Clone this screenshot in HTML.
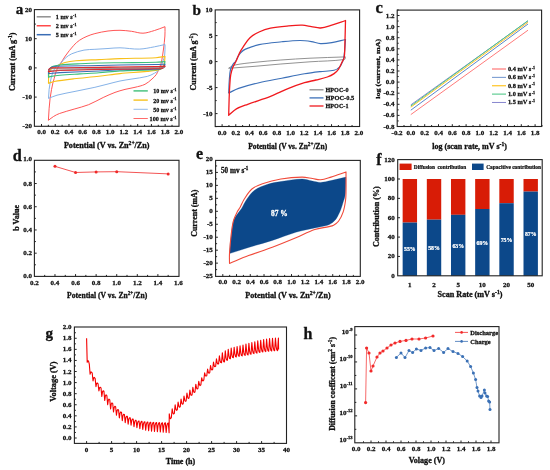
<!DOCTYPE html><html><head><meta charset="utf-8"><style>html,body{margin:0;padding:0;background:#fff;}svg{display:block;font-family:"Liberation Serif",serif;filter:blur(0.3px);}</style></head><body><svg width="550" height="470" viewBox="0 0 550 470" font-family="Liberation Serif, serif" font-weight="bold" stroke-linecap="butt"><path d="M48.4 120.3C48.63 116.47 48.81 112.63 49.1 108.8C49.37 105.26 49.66 101.72 50.1 98.2C50.46 95.32 50.98 92.46 51.5 89.6C51.91 87.36 52.36 85.12 52.9 82.9C53.26 81.41 53.8 79.98 54.2 78.5C54.74 76.51 55.04 74.45 55.7 72.5C56.25 70.87 56.99 69.31 57.8 67.8C58.43 66.64 59.29 65.62 60 64.5C61.79 61.68 63.35 58.71 65.3 56C67.96 52.3 70.74 48.68 73.8 45.3C75.53 43.39 77.47 41.65 79.6 40.2C81.9 38.63 84.44 37.4 87 36.3C89.56 35.2 92.2 34.28 94.9 33.6C99.22 32.51 103.59 31.58 108 31C111.97 30.48 115.99 30.25 120 30.3C123.85 30.35 127.68 30.82 131.5 31.3C135.35 31.79 139.12 33.34 143 33.2C146.94 33.06 150.72 31.62 154.5 30.5C158.07 29.45 161.5 27.97 165 26.7C164.97 29.8 165.11 32.91 164.9 36C164.61 40.35 164.02 44.67 163.5 49C163.22 51.34 162.9 53.68 162.5 56C162.06 58.55 161.71 61.12 161 63.6C160.37 65.8 159.41 67.9 158.5 70C157.84 71.53 157.28 73.15 156.3 74.5C155.09 76.18 153.57 77.64 152 79C149.79 80.92 147.63 83.02 145 84.3C141.87 85.83 138.37 86.44 135 87.3C131.7 88.14 128.3 88.56 125 89.4C121.63 90.26 118.26 91.19 115 92.4C110.98 93.89 107.08 95.69 103.2 97.5C98.28 99.79 93.64 102.69 88.6 104.7C83.91 106.57 78.93 107.64 74.1 109.1C69.23 110.57 64.29 111.79 59.5 113.5C57.46 114.23 55.54 115.27 53.7 116.4C51.83 117.55 50.17 119 48.4 120.3Z" fill="none" stroke="#ff4d4d" stroke-width="0.95" stroke-linejoin="round"/>
<path d="M48.5 98.4C48.7 95.47 48.8 92.52 49.1 89.6C49.33 87.35 49.7 85.12 50.1 82.9C50.4 81.25 50.77 79.62 51.2 78C51.74 75.98 52.16 73.91 53 72C53.78 70.22 54.73 68.47 56 67C57.1 65.72 58.78 65.07 60 63.9C61.89 62.09 63.32 59.81 65.3 58.1C67.25 56.42 69.34 54.81 71.7 53.8C75.64 52.12 79.8 50.92 84 50.1C87.58 49.41 91.26 49.54 94.9 49.3C99.27 49.01 103.63 48.76 108 48.5C112 48.26 115.99 47.72 120 47.8C126.41 47.92 132.79 49.29 139.2 49.1C144.36 48.95 149.42 47.71 154.5 46.8C158.03 46.17 161.5 45.27 165 44.5C164.9 48 165.16 51.53 164.7 55C164.39 57.34 163.45 59.56 162.7 61.8C161.88 64.26 161.51 66.99 160 69.1C158.66 70.96 156.48 72.06 154.5 73.2C152.22 74.51 149.84 75.74 147.3 76.4C142.29 77.69 137.1 78.14 132 79C128 79.67 123.97 80.17 120 81C115.96 81.84 112 83 108 84C103.63 85.1 99.29 86.31 94.9 87.3C88.29 88.78 81.63 90.02 75 91.4C69 92.65 62.93 93.63 57 95.2C54.07 95.97 51.33 97.33 48.5 98.4Z" fill="none" stroke="#7eaee6" stroke-width="0.95" stroke-linejoin="round"/>
<path d="M48.5 83.3C48.57 80.87 48.47 78.42 48.7 76C48.84 74.48 49 72.91 49.6 71.5C50.13 70.27 50.97 69.14 52 68.3C53.16 67.36 54.64 66.91 56 66.3C58.97 64.97 61.86 63.38 65 62.5C68.58 61.5 72.3 61.02 76 60.7C83.65 60.05 91.33 59.97 99 59.6C106 59.27 113 58.83 120 58.6C132 58.2 144.01 58.29 156 57.7C159.03 57.55 162 56.83 165 56.4C164.83 58.27 164.86 60.16 164.5 62C164.19 63.55 163.81 65.14 163 66.5C162.27 67.71 161.35 69.09 160 69.5C155.81 70.78 151.36 70.95 147 71.4C138.02 72.32 128.98 72.68 120 73.6C112.98 74.32 106.01 75.51 99 76.3C90.68 77.24 82.32 77.84 74 78.8C67.32 79.57 60.62 80.33 54 81.5C52.1 81.84 50.33 82.7 48.5 83.3Z" fill="none" stroke="#f8c01a" stroke-width="1.15" stroke-linejoin="round"/>
<path d="M48.5 77.3C48.57 75.2 48.27 73.06 48.7 71C48.95 69.8 49.61 68.64 50.5 67.8C51.45 66.9 52.74 66.37 54 66C55.94 65.43 57.98 65.17 60 65C66.65 64.44 73.33 64.14 80 63.8C86.33 63.48 92.66 63.17 99 63C106 62.81 113 62.79 120 62.7C132 62.55 144 62.62 156 62.3C159.01 62.22 162 61.77 165 61.5C164.67 63 164.83 64.71 164 66C163.07 67.46 161.66 68.83 160 69.3C156.79 70.22 153.34 69.87 150 70C140 70.4 129.99 70.35 120 70.9C112.98 71.29 106.01 72.27 99 72.8C92.67 73.27 86.33 73.51 80 73.9C73.33 74.31 66.65 74.6 60 75.2C56.65 75.5 53.31 76 50 76.6C49.46 76.7 49 77.07 48.5 77.3Z" fill="none" stroke="#3cc07a" stroke-width="1.15" stroke-linejoin="round"/>
<path d="M48.5 73.5C48.6 72.33 48.35 71.08 48.8 70C49.23 68.98 50.02 68.02 51 67.5C52.52 66.7 54.28 66.27 56 66.2C70.32 65.6 84.67 65.77 99 65.5C106 65.37 113 65.12 120 65C132 64.79 144 64.71 156 64.5C159 64.45 162 64.3 165 64.2C164.33 65.47 164.25 67.3 163 68C160.93 69.15 158.37 69.1 156 69.2C144.01 69.7 132 69.42 120 69.8C112.99 70.02 106 70.67 99 71C86 71.61 73 71.96 60 72.6C56.16 72.79 52.33 73.2 48.5 73.5Z" fill="none" stroke="#3a6db5" stroke-width="1.1" stroke-linejoin="round"/>
<path d="M48.5 71.5C48.77 70.67 48.61 69.54 49.3 69C50.31 68.22 51.72 68.04 53 68C68.33 67.54 83.67 67.71 99 67.5C106 67.41 113 67.19 120 67.1C132 66.95 144 67.01 156 66.8C159 66.75 162 66.47 165 66.3C164 66.97 163.16 68 162 68.3C160.06 68.8 158 68.57 156 68.6C144 68.8 132 68.83 120 69C113 69.1 106 69.24 99 69.4C86 69.7 72.99 69.86 60 70.4C56.15 70.56 52.33 71.13 48.5 71.5Z" fill="none" stroke="#e3232a" stroke-width="1.4" stroke-linejoin="round"/>
<path d="M48.5 70.5C49.17 69.87 49.58 68.64 50.5 68.6C66.65 67.9 82.83 68.48 99 68.3C121 68.05 143 67.63 165 67.3C163.33 67.57 161.69 68.07 160 68.1C139.67 68.5 119.33 68.16 99 68.6C82.16 68.96 65.33 69.87 48.5 70.5Z" fill="none" stroke="#8a8a8a" stroke-width="0.6" stroke-linejoin="round"/>
<rect x="34.4" y="9.6" width="144.6" height="116.7" fill="none" stroke="#222" stroke-width="1.1"/>
<line x1="41.5" y1="126.3" x2="41.5" y2="124" stroke="#222" stroke-width="1.0"/>
<line x1="55.24" y1="126.3" x2="55.24" y2="124" stroke="#222" stroke-width="1.0"/>
<line x1="68.98" y1="126.3" x2="68.98" y2="124" stroke="#222" stroke-width="1.0"/>
<line x1="82.72" y1="126.3" x2="82.72" y2="124" stroke="#222" stroke-width="1.0"/>
<line x1="96.46" y1="126.3" x2="96.46" y2="124" stroke="#222" stroke-width="1.0"/>
<line x1="110.2" y1="126.3" x2="110.2" y2="124" stroke="#222" stroke-width="1.0"/>
<line x1="123.94" y1="126.3" x2="123.94" y2="124" stroke="#222" stroke-width="1.0"/>
<line x1="137.68" y1="126.3" x2="137.68" y2="124" stroke="#222" stroke-width="1.0"/>
<line x1="151.42" y1="126.3" x2="151.42" y2="124" stroke="#222" stroke-width="1.0"/>
<line x1="165.16" y1="126.3" x2="165.16" y2="124" stroke="#222" stroke-width="1.0"/>
<line x1="48.37" y1="126.3" x2="48.37" y2="124.8" stroke="#222" stroke-width="1.0"/>
<line x1="62.11" y1="126.3" x2="62.11" y2="124.8" stroke="#222" stroke-width="1.0"/>
<line x1="75.85" y1="126.3" x2="75.85" y2="124.8" stroke="#222" stroke-width="1.0"/>
<line x1="89.59" y1="126.3" x2="89.59" y2="124.8" stroke="#222" stroke-width="1.0"/>
<line x1="103.33" y1="126.3" x2="103.33" y2="124.8" stroke="#222" stroke-width="1.0"/>
<line x1="117.07" y1="126.3" x2="117.07" y2="124.8" stroke="#222" stroke-width="1.0"/>
<line x1="130.81" y1="126.3" x2="130.81" y2="124.8" stroke="#222" stroke-width="1.0"/>
<line x1="144.55" y1="126.3" x2="144.55" y2="124.8" stroke="#222" stroke-width="1.0"/>
<line x1="158.29" y1="126.3" x2="158.29" y2="124.8" stroke="#222" stroke-width="1.0"/>
<line x1="172.03" y1="126.3" x2="172.03" y2="124.8" stroke="#222" stroke-width="1.0"/>
<text x="41.5" y="134.4" font-size="6.5" text-anchor="middle" fill="#111" textLength="8.75" lengthAdjust="spacingAndGlyphs" stroke="#111" stroke-width="0.26">0.0</text>
<text x="55.24" y="134.4" font-size="6.5" text-anchor="middle" fill="#111" textLength="8.75" lengthAdjust="spacingAndGlyphs" stroke="#111" stroke-width="0.26">0.2</text>
<text x="68.98" y="134.4" font-size="6.5" text-anchor="middle" fill="#111" textLength="8.75" lengthAdjust="spacingAndGlyphs" stroke="#111" stroke-width="0.26">0.4</text>
<text x="82.72" y="134.4" font-size="6.5" text-anchor="middle" fill="#111" textLength="8.75" lengthAdjust="spacingAndGlyphs" stroke="#111" stroke-width="0.26">0.6</text>
<text x="96.46" y="134.4" font-size="6.5" text-anchor="middle" fill="#111" textLength="8.75" lengthAdjust="spacingAndGlyphs" stroke="#111" stroke-width="0.26">0.8</text>
<text x="110.2" y="134.4" font-size="6.5" text-anchor="middle" fill="#111" textLength="8.75" lengthAdjust="spacingAndGlyphs" stroke="#111" stroke-width="0.26">1.0</text>
<text x="123.94" y="134.4" font-size="6.5" text-anchor="middle" fill="#111" textLength="8.75" lengthAdjust="spacingAndGlyphs" stroke="#111" stroke-width="0.26">1.2</text>
<text x="137.68" y="134.4" font-size="6.5" text-anchor="middle" fill="#111" textLength="8.75" lengthAdjust="spacingAndGlyphs" stroke="#111" stroke-width="0.26">1.4</text>
<text x="151.42" y="134.4" font-size="6.5" text-anchor="middle" fill="#111" textLength="8.75" lengthAdjust="spacingAndGlyphs" stroke="#111" stroke-width="0.26">1.6</text>
<text x="165.16" y="134.4" font-size="6.5" text-anchor="middle" fill="#111" textLength="8.75" lengthAdjust="spacingAndGlyphs" stroke="#111" stroke-width="0.26">1.8</text>
<text x="178.9" y="134.4" font-size="6.5" text-anchor="middle" fill="#111" textLength="8.75" lengthAdjust="spacingAndGlyphs" stroke="#111" stroke-width="0.26">2.0</text>
<text x="31.9" y="128.3" font-size="6.5" text-anchor="end" fill="#111" textLength="9.33" lengthAdjust="spacingAndGlyphs" stroke="#111" stroke-width="0.26">-20</text>
<text x="31.9" y="99.1" font-size="6.5" text-anchor="end" fill="#111" textLength="9.33" lengthAdjust="spacingAndGlyphs" stroke="#111" stroke-width="0.26">-10</text>
<text x="31.9" y="69.9" font-size="6.5" text-anchor="end" fill="#111" textLength="3.5" lengthAdjust="spacingAndGlyphs" stroke="#111" stroke-width="0.26">0</text>
<text x="31.9" y="40.7" font-size="6.5" text-anchor="end" fill="#111" textLength="7" lengthAdjust="spacingAndGlyphs" stroke="#111" stroke-width="0.26">10</text>
<text x="31.9" y="11.5" font-size="6.5" text-anchor="end" fill="#111" textLength="7" lengthAdjust="spacingAndGlyphs" stroke="#111" stroke-width="0.26">20</text>
<line x1="34.4" y1="97.1" x2="36.7" y2="97.1" stroke="#222" stroke-width="1.0"/>
<line x1="34.4" y1="67.9" x2="36.7" y2="67.9" stroke="#222" stroke-width="1.0"/>
<line x1="34.4" y1="38.7" x2="36.7" y2="38.7" stroke="#222" stroke-width="1.0"/>
<line x1="34.4" y1="111.7" x2="35.9" y2="111.7" stroke="#222" stroke-width="1.0"/>
<line x1="34.4" y1="82.5" x2="35.9" y2="82.5" stroke="#222" stroke-width="1.0"/>
<line x1="34.4" y1="53.3" x2="35.9" y2="53.3" stroke="#222" stroke-width="1.0"/>
<line x1="34.4" y1="24.1" x2="35.9" y2="24.1" stroke="#222" stroke-width="1.0"/>
<text x="63.9" y="148.4" font-size="7.5" text-anchor="start" fill="#111" textLength="85.6" lengthAdjust="spacingAndGlyphs" stroke="#111" stroke-width="0.3">Potential (V vs. Zn<tspan font-size="70%" dy="-3">2+</tspan><tspan dy="3">/Zn)</tspan></text>
<text x="15" y="91" font-size="7.9" text-anchor="start" fill="#111" transform="rotate(-90 15 91)" textLength="58.6" lengthAdjust="spacingAndGlyphs" stroke="#111" stroke-width="0.32">Current (mA g<tspan font-size="70%" dy="-3">-1</tspan><tspan dy="3">)</tspan></text>
<text x="15.85" y="13.6" font-size="15" text-anchor="start" fill="#111" stroke="#111" stroke-width="0.32">a</text>
<line x1="36.7" y1="16.8" x2="50.8" y2="16.8" stroke="#8f8f8f" stroke-width="1.5"/>
<text x="55.8" y="19" font-size="6.4" text-anchor="start" fill="#111" textLength="20.6" lengthAdjust="spacingAndGlyphs" stroke="#111" stroke-width="0.26">1 mv s<tspan font-size="65%" dx="0.5" dy="-2.2">-1</tspan></text>
<line x1="36.7" y1="25.75" x2="50.8" y2="25.75" stroke="#ff4a4a" stroke-width="1.5"/>
<text x="55.8" y="27.95" font-size="6.4" text-anchor="start" fill="#111" textLength="20.6" lengthAdjust="spacingAndGlyphs" stroke="#111" stroke-width="0.26">2 mv s<tspan font-size="65%" dx="0.5" dy="-2.2">-1</tspan></text>
<line x1="36.7" y1="34.7" x2="50.8" y2="34.7" stroke="#3a6db5" stroke-width="1.5"/>
<text x="55.8" y="36.9" font-size="6.4" text-anchor="start" fill="#111" textLength="20.6" lengthAdjust="spacingAndGlyphs" stroke="#111" stroke-width="0.26">5 mv s<tspan font-size="65%" dx="0.5" dy="-2.2">-1</tspan></text>
<line x1="133.5" y1="90.9" x2="147.8" y2="90.9" stroke="#3fbf78" stroke-width="1.4"/>
<text x="153.2" y="93.3" font-size="6.4" text-anchor="start" fill="#111" textLength="23.4" lengthAdjust="spacingAndGlyphs" stroke="#111" stroke-width="0.26">10 mv s<tspan font-size="65%" dx="0.5" dy="-2.2">-1</tspan></text>
<line x1="133.5" y1="100.1" x2="147.8" y2="100.1" stroke="#f7c21e" stroke-width="1.4"/>
<text x="153.2" y="102.5" font-size="6.4" text-anchor="start" fill="#111" textLength="23.4" lengthAdjust="spacingAndGlyphs" stroke="#111" stroke-width="0.26">20 mv s<tspan font-size="65%" dx="0.5" dy="-2.2">-1</tspan></text>
<line x1="133.5" y1="109.3" x2="147.8" y2="109.3" stroke="#86b2e6" stroke-width="0.9"/>
<text x="153.2" y="111.7" font-size="6.4" text-anchor="start" fill="#111" textLength="23.4" lengthAdjust="spacingAndGlyphs" stroke="#111" stroke-width="0.26">50 mv s<tspan font-size="65%" dx="0.5" dy="-2.2">-1</tspan></text>
<line x1="133.5" y1="118.5" x2="147.8" y2="118.5" stroke="#ff5b5b" stroke-width="0.9"/>
<text x="149.6" y="120.9" font-size="6.4" text-anchor="start" fill="#111" textLength="27" lengthAdjust="spacingAndGlyphs" stroke="#111" stroke-width="0.26">100 mv s<tspan font-size="65%" dx="0.5" dy="-2.2">-1</tspan></text>
<path d="M228.7 68C230.8 67 232.73 65.49 235 65C241.57 63.58 248.31 63.03 255 62.3C263.62 61.36 272.26 60.64 280.9 60C290.59 59.28 300.29 58.67 310 58.2C321.83 57.63 333.67 57.33 345.5 56.9C345.17 57.77 345.42 59.37 344.5 59.5C333.08 61.08 321.5 60.99 310 61.8C300.3 62.49 290.6 63.21 280.9 64C272.26 64.71 263.64 65.59 255 66.3C246.24 67.02 237.47 67.63 228.7 68.3Z" fill="none" stroke="#8c8c8c" stroke-width="0.95" stroke-linejoin="round"/>
<path d="M228.7 93C228.9 88.67 228.97 84.33 229.3 80C229.57 76.49 229.67 72.92 230.5 69.5C230.98 67.52 232.12 65.73 233.2 64C233.8 63.04 234.89 62.45 235.5 61.5C236.5 59.93 237.04 58.1 238 56.5C238.85 55.09 239.73 53.66 240.9 52.5C242.26 51.16 243.75 49.86 245.5 49.1C249.88 47.2 254.42 45.54 259.1 44.6C266.57 43.1 274.21 42.56 281.8 41.8C287.85 41.19 293.92 40.54 300 40.5C303.82 40.47 307.63 41.03 311.4 41.6C314.47 42.06 317.4 43.45 320.5 43.6C324.28 43.79 328.07 43.21 331.8 42.6C336.42 41.84 340.93 40.53 345.5 39.5C345.33 41.67 345.18 43.83 345 46C344.75 48.93 344.58 51.88 344.2 54.8C343.97 56.55 343.81 58.34 343.2 60C342.33 62.38 341.49 64.91 339.8 66.8C338.33 68.45 336.25 69.67 334.1 70.2C329.68 71.3 325.02 71.05 320.5 71.6C315.16 72.25 309.81 72.89 304.5 73.8C296.9 75.1 289.36 76.72 281.8 78.2C274.23 79.68 266.61 80.93 259.1 82.7C252.2 84.33 245.32 86.12 238.6 88.4C235.15 89.57 232 91.47 228.7 93Z" fill="none" stroke="#3c70b8" stroke-width="1.15" stroke-linejoin="round"/>
<path d="M228.7 115.3C228.83 110.2 228.93 105.1 229.1 100C229.23 96 229.34 92 229.6 88C229.88 83.66 230 79.29 230.7 75C231.14 72.26 231.98 69.58 233 67C233.89 64.72 235.37 62.72 236.4 60.5C237.54 58.05 238.3 55.42 239.5 53C240.57 50.84 241.84 48.78 243.2 46.8C245.34 43.68 247.23 40.28 250 37.7C252.62 35.26 255.85 33.5 259.1 32C262.73 30.32 266.58 29.01 270.5 28.2C276.46 26.97 282.55 26.47 288.6 25.9C293.15 25.47 297.73 25.06 302.3 25.2C305.37 25.29 308.37 26.13 311.4 26.6C314.43 27.07 317.44 28.21 320.5 28C324.37 27.73 328.08 26.32 331.8 25.2C336.42 23.81 340.93 22.07 345.5 20.5C345.33 27 345.23 33.5 345 40C344.79 45.84 344.98 51.71 344.2 57.5C343.97 59.24 342.77 60.71 342 62.3C340.9 64.58 340.05 67.02 338.6 69.1C337.38 70.84 335.84 72.38 334.1 73.6C332.02 75.05 329.69 76.16 327.3 77C323.59 78.3 319.71 79.05 315.9 80C312.11 80.95 308.23 81.55 304.5 82.7C299.12 84.36 293.82 86.3 288.6 88.4C282.48 90.87 276.65 94.01 270.5 96.4C263 99.31 255.25 101.53 247.7 104.3C243.88 105.7 239.92 106.86 236.4 108.9C233.51 110.57 231.27 113.17 228.7 115.3Z" fill="none" stroke="#f0191e" stroke-width="1.3" stroke-linejoin="round"/>
<rect x="215.2" y="9.9" width="144.4" height="116.6" fill="none" stroke="#222" stroke-width="1.1"/>
<line x1="222.1" y1="126.5" x2="222.1" y2="124.2" stroke="#222" stroke-width="1.0"/>
<line x1="235.78" y1="126.5" x2="235.78" y2="124.2" stroke="#222" stroke-width="1.0"/>
<line x1="249.46" y1="126.5" x2="249.46" y2="124.2" stroke="#222" stroke-width="1.0"/>
<line x1="263.14" y1="126.5" x2="263.14" y2="124.2" stroke="#222" stroke-width="1.0"/>
<line x1="276.82" y1="126.5" x2="276.82" y2="124.2" stroke="#222" stroke-width="1.0"/>
<line x1="290.5" y1="126.5" x2="290.5" y2="124.2" stroke="#222" stroke-width="1.0"/>
<line x1="304.18" y1="126.5" x2="304.18" y2="124.2" stroke="#222" stroke-width="1.0"/>
<line x1="317.86" y1="126.5" x2="317.86" y2="124.2" stroke="#222" stroke-width="1.0"/>
<line x1="331.54" y1="126.5" x2="331.54" y2="124.2" stroke="#222" stroke-width="1.0"/>
<line x1="345.22" y1="126.5" x2="345.22" y2="124.2" stroke="#222" stroke-width="1.0"/>
<line x1="228.94" y1="126.5" x2="228.94" y2="125" stroke="#222" stroke-width="1.0"/>
<line x1="242.62" y1="126.5" x2="242.62" y2="125" stroke="#222" stroke-width="1.0"/>
<line x1="256.3" y1="126.5" x2="256.3" y2="125" stroke="#222" stroke-width="1.0"/>
<line x1="269.98" y1="126.5" x2="269.98" y2="125" stroke="#222" stroke-width="1.0"/>
<line x1="283.66" y1="126.5" x2="283.66" y2="125" stroke="#222" stroke-width="1.0"/>
<line x1="297.34" y1="126.5" x2="297.34" y2="125" stroke="#222" stroke-width="1.0"/>
<line x1="311.02" y1="126.5" x2="311.02" y2="125" stroke="#222" stroke-width="1.0"/>
<line x1="324.7" y1="126.5" x2="324.7" y2="125" stroke="#222" stroke-width="1.0"/>
<line x1="338.38" y1="126.5" x2="338.38" y2="125" stroke="#222" stroke-width="1.0"/>
<line x1="352.06" y1="126.5" x2="352.06" y2="125" stroke="#222" stroke-width="1.0"/>
<text x="222.1" y="134.5" font-size="6.5" text-anchor="middle" fill="#111" textLength="8.75" lengthAdjust="spacingAndGlyphs" stroke="#111" stroke-width="0.26">0.0</text>
<text x="235.78" y="134.5" font-size="6.5" text-anchor="middle" fill="#111" textLength="8.75" lengthAdjust="spacingAndGlyphs" stroke="#111" stroke-width="0.26">0.2</text>
<text x="249.46" y="134.5" font-size="6.5" text-anchor="middle" fill="#111" textLength="8.75" lengthAdjust="spacingAndGlyphs" stroke="#111" stroke-width="0.26">0.4</text>
<text x="263.14" y="134.5" font-size="6.5" text-anchor="middle" fill="#111" textLength="8.75" lengthAdjust="spacingAndGlyphs" stroke="#111" stroke-width="0.26">0.6</text>
<text x="276.82" y="134.5" font-size="6.5" text-anchor="middle" fill="#111" textLength="8.75" lengthAdjust="spacingAndGlyphs" stroke="#111" stroke-width="0.26">0.8</text>
<text x="290.5" y="134.5" font-size="6.5" text-anchor="middle" fill="#111" textLength="8.75" lengthAdjust="spacingAndGlyphs" stroke="#111" stroke-width="0.26">1.0</text>
<text x="304.18" y="134.5" font-size="6.5" text-anchor="middle" fill="#111" textLength="8.75" lengthAdjust="spacingAndGlyphs" stroke="#111" stroke-width="0.26">1.2</text>
<text x="317.86" y="134.5" font-size="6.5" text-anchor="middle" fill="#111" textLength="8.75" lengthAdjust="spacingAndGlyphs" stroke="#111" stroke-width="0.26">1.4</text>
<text x="331.54" y="134.5" font-size="6.5" text-anchor="middle" fill="#111" textLength="8.75" lengthAdjust="spacingAndGlyphs" stroke="#111" stroke-width="0.26">1.6</text>
<text x="345.22" y="134.5" font-size="6.5" text-anchor="middle" fill="#111" textLength="8.75" lengthAdjust="spacingAndGlyphs" stroke="#111" stroke-width="0.26">1.8</text>
<text x="358.9" y="134.5" font-size="6.5" text-anchor="middle" fill="#111" textLength="8.75" lengthAdjust="spacingAndGlyphs" stroke="#111" stroke-width="0.26">2.0</text>
<text x="212.6" y="115.6" font-size="6.5" text-anchor="end" fill="#111" textLength="9.33" lengthAdjust="spacingAndGlyphs" stroke="#111" stroke-width="0.26">-10</text>
<text x="212.6" y="89.6" font-size="6.5" text-anchor="end" fill="#111" textLength="5.83" lengthAdjust="spacingAndGlyphs" stroke="#111" stroke-width="0.26">-5</text>
<text x="212.6" y="63.6" font-size="6.5" text-anchor="end" fill="#111" textLength="3.5" lengthAdjust="spacingAndGlyphs" stroke="#111" stroke-width="0.26">0</text>
<text x="212.6" y="37.6" font-size="6.5" text-anchor="end" fill="#111" textLength="3.5" lengthAdjust="spacingAndGlyphs" stroke="#111" stroke-width="0.26">5</text>
<text x="212.6" y="11.6" font-size="6.5" text-anchor="end" fill="#111" textLength="7" lengthAdjust="spacingAndGlyphs" stroke="#111" stroke-width="0.26">10</text>
<line x1="215.2" y1="113.6" x2="217.5" y2="113.6" stroke="#222" stroke-width="1.0"/>
<line x1="215.2" y1="87.6" x2="217.5" y2="87.6" stroke="#222" stroke-width="1.0"/>
<line x1="215.2" y1="61.6" x2="217.5" y2="61.6" stroke="#222" stroke-width="1.0"/>
<line x1="215.2" y1="35.6" x2="217.5" y2="35.6" stroke="#222" stroke-width="1.0"/>
<line x1="215.2" y1="126.6" x2="216.7" y2="126.6" stroke="#222" stroke-width="1.0"/>
<line x1="215.2" y1="100.6" x2="216.7" y2="100.6" stroke="#222" stroke-width="1.0"/>
<line x1="215.2" y1="74.6" x2="216.7" y2="74.6" stroke="#222" stroke-width="1.0"/>
<line x1="215.2" y1="48.6" x2="216.7" y2="48.6" stroke="#222" stroke-width="1.0"/>
<line x1="215.2" y1="22.6" x2="216.7" y2="22.6" stroke="#222" stroke-width="1.0"/>
<text x="248.2" y="148.6" font-size="7.2" text-anchor="start" fill="#111" textLength="79" lengthAdjust="spacingAndGlyphs" stroke="#111" stroke-width="0.29">Potential (V vs. Zn<tspan font-size="70%" dy="-3">2+</tspan><tspan dy="3">/Zn)</tspan></text>
<text x="196.2" y="90.5" font-size="7.9" text-anchor="start" fill="#111" transform="rotate(-90 196.2 90.5)" textLength="57.4" lengthAdjust="spacingAndGlyphs" stroke="#111" stroke-width="0.32">Current (mA g<tspan font-size="70%" dy="-3">-1</tspan><tspan dy="3">)</tspan></text>
<text x="192.6" y="14.9" font-size="15.3" text-anchor="start" fill="#111" stroke="#111" stroke-width="0.32">b</text>
<line x1="309.5" y1="89.8" x2="323.5" y2="89.8" stroke="#8c8c8c" stroke-width="1.3"/>
<text x="325.5" y="91.8" font-size="6.4" text-anchor="start" fill="#111" textLength="23" lengthAdjust="spacingAndGlyphs" stroke="#111" stroke-width="0.26">HPOC-0</text>
<line x1="309.5" y1="97.9" x2="323.5" y2="97.9" stroke="#3c70b8" stroke-width="1.3"/>
<text x="325.5" y="99.9" font-size="6.4" text-anchor="start" fill="#111" textLength="28.8" lengthAdjust="spacingAndGlyphs" stroke="#111" stroke-width="0.26">HPOC-0.5</text>
<line x1="309.5" y1="106" x2="323.5" y2="106" stroke="#f0191e" stroke-width="1.3"/>
<text x="325.5" y="108" font-size="6.4" text-anchor="start" fill="#111" textLength="23" lengthAdjust="spacingAndGlyphs" stroke="#111" stroke-width="0.26">HPOC-1</text>
<line x1="410.8" y1="104.9" x2="528" y2="21" stroke="#7b78c8" stroke-width="0.9"/>
<line x1="410.8" y1="114.6" x2="528" y2="30.2" stroke="#ff7a7a" stroke-width="1.0"/>
<line x1="410.8" y1="110.2" x2="528" y2="24" stroke="#4a78c2" stroke-width="0.9"/>
<line x1="410.8" y1="107.2" x2="528" y2="22.3" stroke="#ffc423" stroke-width="1.0"/>
<line x1="410.8" y1="106" x2="528" y2="20.6" stroke="#52c98a" stroke-width="1.0"/>
<rect x="397.2" y="10.1" width="144.4" height="116.4" fill="none" stroke="#222" stroke-width="1.1"/>
<line x1="410.9" y1="126.5" x2="410.9" y2="124.2" stroke="#222" stroke-width="1.0"/>
<line x1="424.7" y1="126.5" x2="424.7" y2="124.2" stroke="#222" stroke-width="1.0"/>
<line x1="438.5" y1="126.5" x2="438.5" y2="124.2" stroke="#222" stroke-width="1.0"/>
<line x1="452.3" y1="126.5" x2="452.3" y2="124.2" stroke="#222" stroke-width="1.0"/>
<line x1="466.1" y1="126.5" x2="466.1" y2="124.2" stroke="#222" stroke-width="1.0"/>
<line x1="479.9" y1="126.5" x2="479.9" y2="124.2" stroke="#222" stroke-width="1.0"/>
<line x1="493.7" y1="126.5" x2="493.7" y2="124.2" stroke="#222" stroke-width="1.0"/>
<line x1="507.5" y1="126.5" x2="507.5" y2="124.2" stroke="#222" stroke-width="1.0"/>
<line x1="521.3" y1="126.5" x2="521.3" y2="124.2" stroke="#222" stroke-width="1.0"/>
<line x1="535.1" y1="126.5" x2="535.1" y2="124.2" stroke="#222" stroke-width="1.0"/>
<line x1="404" y1="126.5" x2="404" y2="125" stroke="#222" stroke-width="1.0"/>
<line x1="417.8" y1="126.5" x2="417.8" y2="125" stroke="#222" stroke-width="1.0"/>
<line x1="431.6" y1="126.5" x2="431.6" y2="125" stroke="#222" stroke-width="1.0"/>
<line x1="445.4" y1="126.5" x2="445.4" y2="125" stroke="#222" stroke-width="1.0"/>
<line x1="459.2" y1="126.5" x2="459.2" y2="125" stroke="#222" stroke-width="1.0"/>
<line x1="473" y1="126.5" x2="473" y2="125" stroke="#222" stroke-width="1.0"/>
<line x1="486.8" y1="126.5" x2="486.8" y2="125" stroke="#222" stroke-width="1.0"/>
<line x1="500.6" y1="126.5" x2="500.6" y2="125" stroke="#222" stroke-width="1.0"/>
<line x1="514.4" y1="126.5" x2="514.4" y2="125" stroke="#222" stroke-width="1.0"/>
<line x1="528.2" y1="126.5" x2="528.2" y2="125" stroke="#222" stroke-width="1.0"/>
<line x1="542" y1="126.5" x2="542" y2="125" stroke="#222" stroke-width="1.0"/>
<text x="397.1" y="134.5" font-size="6.5" text-anchor="middle" fill="#111" textLength="11.08" lengthAdjust="spacingAndGlyphs" stroke="#111" stroke-width="0.26">-0.2</text>
<text x="410.9" y="134.5" font-size="6.5" text-anchor="middle" fill="#111" textLength="8.75" lengthAdjust="spacingAndGlyphs" stroke="#111" stroke-width="0.26">0.0</text>
<text x="424.7" y="134.5" font-size="6.5" text-anchor="middle" fill="#111" textLength="8.75" lengthAdjust="spacingAndGlyphs" stroke="#111" stroke-width="0.26">0.2</text>
<text x="438.5" y="134.5" font-size="6.5" text-anchor="middle" fill="#111" textLength="8.75" lengthAdjust="spacingAndGlyphs" stroke="#111" stroke-width="0.26">0.4</text>
<text x="452.3" y="134.5" font-size="6.5" text-anchor="middle" fill="#111" textLength="8.75" lengthAdjust="spacingAndGlyphs" stroke="#111" stroke-width="0.26">0.6</text>
<text x="466.1" y="134.5" font-size="6.5" text-anchor="middle" fill="#111" textLength="8.75" lengthAdjust="spacingAndGlyphs" stroke="#111" stroke-width="0.26">0.8</text>
<text x="479.9" y="134.5" font-size="6.5" text-anchor="middle" fill="#111" textLength="8.75" lengthAdjust="spacingAndGlyphs" stroke="#111" stroke-width="0.26">1.0</text>
<text x="493.7" y="134.5" font-size="6.5" text-anchor="middle" fill="#111" textLength="8.75" lengthAdjust="spacingAndGlyphs" stroke="#111" stroke-width="0.26">1.2</text>
<text x="507.5" y="134.5" font-size="6.5" text-anchor="middle" fill="#111" textLength="8.75" lengthAdjust="spacingAndGlyphs" stroke="#111" stroke-width="0.26">1.4</text>
<text x="521.3" y="134.5" font-size="6.5" text-anchor="middle" fill="#111" textLength="8.75" lengthAdjust="spacingAndGlyphs" stroke="#111" stroke-width="0.26">1.6</text>
<text x="535.1" y="134.5" font-size="6.5" text-anchor="middle" fill="#111" textLength="8.75" lengthAdjust="spacingAndGlyphs" stroke="#111" stroke-width="0.26">1.8</text>
<text x="394.6" y="128.5" font-size="6.5" text-anchor="end" fill="#111" textLength="11.08" lengthAdjust="spacingAndGlyphs" stroke="#111" stroke-width="0.26">-0.8</text>
<text x="394.6" y="117.4" font-size="6.5" text-anchor="end" fill="#111" textLength="11.08" lengthAdjust="spacingAndGlyphs" stroke="#111" stroke-width="0.26">-0.6</text>
<text x="394.6" y="106.3" font-size="6.5" text-anchor="end" fill="#111" textLength="11.08" lengthAdjust="spacingAndGlyphs" stroke="#111" stroke-width="0.26">-0.4</text>
<text x="394.6" y="95.2" font-size="6.5" text-anchor="end" fill="#111" textLength="11.08" lengthAdjust="spacingAndGlyphs" stroke="#111" stroke-width="0.26">-0.2</text>
<text x="394.6" y="84.1" font-size="6.5" text-anchor="end" fill="#111" textLength="8.75" lengthAdjust="spacingAndGlyphs" stroke="#111" stroke-width="0.26">0.0</text>
<text x="394.6" y="73" font-size="6.5" text-anchor="end" fill="#111" textLength="8.75" lengthAdjust="spacingAndGlyphs" stroke="#111" stroke-width="0.26">0.2</text>
<text x="394.6" y="61.9" font-size="6.5" text-anchor="end" fill="#111" textLength="8.75" lengthAdjust="spacingAndGlyphs" stroke="#111" stroke-width="0.26">0.4</text>
<text x="394.6" y="50.8" font-size="6.5" text-anchor="end" fill="#111" textLength="8.75" lengthAdjust="spacingAndGlyphs" stroke="#111" stroke-width="0.26">0.6</text>
<text x="394.6" y="39.7" font-size="6.5" text-anchor="end" fill="#111" textLength="8.75" lengthAdjust="spacingAndGlyphs" stroke="#111" stroke-width="0.26">0.8</text>
<text x="394.6" y="28.6" font-size="6.5" text-anchor="end" fill="#111" textLength="8.75" lengthAdjust="spacingAndGlyphs" stroke="#111" stroke-width="0.26">1.0</text>
<text x="394.6" y="17.5" font-size="6.5" text-anchor="end" fill="#111" textLength="8.75" lengthAdjust="spacingAndGlyphs" stroke="#111" stroke-width="0.26">1.2</text>
<line x1="397.2" y1="115.4" x2="399.5" y2="115.4" stroke="#222" stroke-width="1.0"/>
<line x1="397.2" y1="104.3" x2="399.5" y2="104.3" stroke="#222" stroke-width="1.0"/>
<line x1="397.2" y1="93.2" x2="399.5" y2="93.2" stroke="#222" stroke-width="1.0"/>
<line x1="397.2" y1="82.1" x2="399.5" y2="82.1" stroke="#222" stroke-width="1.0"/>
<line x1="397.2" y1="71" x2="399.5" y2="71" stroke="#222" stroke-width="1.0"/>
<line x1="397.2" y1="59.9" x2="399.5" y2="59.9" stroke="#222" stroke-width="1.0"/>
<line x1="397.2" y1="48.8" x2="399.5" y2="48.8" stroke="#222" stroke-width="1.0"/>
<line x1="397.2" y1="37.7" x2="399.5" y2="37.7" stroke="#222" stroke-width="1.0"/>
<line x1="397.2" y1="26.6" x2="399.5" y2="26.6" stroke="#222" stroke-width="1.0"/>
<line x1="397.2" y1="15.5" x2="399.5" y2="15.5" stroke="#222" stroke-width="1.0"/>
<line x1="397.2" y1="120.95" x2="398.7" y2="120.95" stroke="#222" stroke-width="1.0"/>
<line x1="397.2" y1="109.85" x2="398.7" y2="109.85" stroke="#222" stroke-width="1.0"/>
<line x1="397.2" y1="98.75" x2="398.7" y2="98.75" stroke="#222" stroke-width="1.0"/>
<line x1="397.2" y1="87.65" x2="398.7" y2="87.65" stroke="#222" stroke-width="1.0"/>
<line x1="397.2" y1="76.55" x2="398.7" y2="76.55" stroke="#222" stroke-width="1.0"/>
<line x1="397.2" y1="65.45" x2="398.7" y2="65.45" stroke="#222" stroke-width="1.0"/>
<line x1="397.2" y1="54.35" x2="398.7" y2="54.35" stroke="#222" stroke-width="1.0"/>
<line x1="397.2" y1="43.25" x2="398.7" y2="43.25" stroke="#222" stroke-width="1.0"/>
<line x1="397.2" y1="32.15" x2="398.7" y2="32.15" stroke="#222" stroke-width="1.0"/>
<line x1="397.2" y1="21.05" x2="398.7" y2="21.05" stroke="#222" stroke-width="1.0"/>
<line x1="397.2" y1="9.95" x2="398.7" y2="9.95" stroke="#222" stroke-width="1.0"/>
<text x="432.3" y="148.5" font-size="7.4" text-anchor="start" fill="#111" textLength="74.6" lengthAdjust="spacingAndGlyphs" stroke="#111" stroke-width="0.3">log (scan rate, mV s<tspan font-size="70%" dy="-3">-1</tspan><tspan dy="3">)</tspan></text>
<text x="379.6" y="98.8" font-size="7.0" text-anchor="start" fill="#111" transform="rotate(-90 379.6 98.8)" textLength="60" lengthAdjust="spacingAndGlyphs" stroke="#111" stroke-width="0.28">log (current, mA)</text>
<text x="375.6" y="13.2" font-size="16.5" text-anchor="start" fill="#111" stroke="#111" stroke-width="0.32">c</text>
<line x1="492" y1="69" x2="506" y2="69" stroke="#ff8080" stroke-width="1.3"/>
<text x="507.9" y="71" font-size="6.7" text-anchor="start" fill="#111" textLength="27.2" lengthAdjust="spacingAndGlyphs" stroke="#111" stroke-width="0.27">0.4 mV s<tspan font-size="65%" dx="0.5" dy="-2.3">-1</tspan></text>
<line x1="492" y1="77.37" x2="506" y2="77.37" stroke="#4a78c2" stroke-width="0.8"/>
<text x="507.9" y="79.37" font-size="6.7" text-anchor="start" fill="#111" textLength="27.2" lengthAdjust="spacingAndGlyphs" stroke="#111" stroke-width="0.27">0.6 mV s<tspan font-size="65%" dx="0.5" dy="-2.3">-1</tspan></text>
<line x1="492" y1="85.74" x2="506" y2="85.74" stroke="#ffc423" stroke-width="1.2"/>
<text x="507.9" y="87.74" font-size="6.7" text-anchor="start" fill="#111" textLength="27.2" lengthAdjust="spacingAndGlyphs" stroke="#111" stroke-width="0.27">0.8 mV s<tspan font-size="65%" dx="0.5" dy="-2.3">-1</tspan></text>
<line x1="492" y1="94.11" x2="506" y2="94.11" stroke="#52c98a" stroke-width="1.1"/>
<text x="507.9" y="96.11" font-size="6.7" text-anchor="start" fill="#111" textLength="27.2" lengthAdjust="spacingAndGlyphs" stroke="#111" stroke-width="0.27">1.0 mV s<tspan font-size="65%" dx="0.5" dy="-2.3">-1</tspan></text>
<line x1="492" y1="102.48" x2="506" y2="102.48" stroke="#7b78c8" stroke-width="0.9"/>
<text x="507.9" y="104.48" font-size="6.7" text-anchor="start" fill="#111" textLength="27.2" lengthAdjust="spacingAndGlyphs" stroke="#111" stroke-width="0.27">1.5 mV s<tspan font-size="65%" dx="0.5" dy="-2.3">-1</tspan></text>
<path d="M54.98 166.34 L75.56 172.49 L96.14 171.91 L116.72 171.68 L168.17 173.88" fill="none" stroke="#f02828" stroke-width="0.8" stroke-linejoin="round"/>
<circle cx="54.98" cy="166.34" r="1.5" fill="#f02828"/>
<circle cx="75.56" cy="172.49" r="1.5" fill="#f02828"/>
<circle cx="96.14" cy="171.91" r="1.5" fill="#f02828"/>
<circle cx="116.72" cy="171.68" r="1.5" fill="#f02828"/>
<circle cx="168.17" cy="173.88" r="1.5" fill="#f02828"/>
<rect x="34.4" y="160.3" width="144.6" height="116.1" fill="none" stroke="#222" stroke-width="1.1"/>
<line x1="54.98" y1="276.4" x2="54.98" y2="274.1" stroke="#222" stroke-width="1.0"/>
<line x1="75.56" y1="276.4" x2="75.56" y2="274.1" stroke="#222" stroke-width="1.0"/>
<line x1="96.14" y1="276.4" x2="96.14" y2="274.1" stroke="#222" stroke-width="1.0"/>
<line x1="116.72" y1="276.4" x2="116.72" y2="274.1" stroke="#222" stroke-width="1.0"/>
<line x1="137.3" y1="276.4" x2="137.3" y2="274.1" stroke="#222" stroke-width="1.0"/>
<line x1="157.88" y1="276.4" x2="157.88" y2="274.1" stroke="#222" stroke-width="1.0"/>
<line x1="44.69" y1="276.4" x2="44.69" y2="274.9" stroke="#222" stroke-width="1.0"/>
<line x1="65.27" y1="276.4" x2="65.27" y2="274.9" stroke="#222" stroke-width="1.0"/>
<line x1="85.85" y1="276.4" x2="85.85" y2="274.9" stroke="#222" stroke-width="1.0"/>
<line x1="106.43" y1="276.4" x2="106.43" y2="274.9" stroke="#222" stroke-width="1.0"/>
<line x1="127.01" y1="276.4" x2="127.01" y2="274.9" stroke="#222" stroke-width="1.0"/>
<line x1="147.59" y1="276.4" x2="147.59" y2="274.9" stroke="#222" stroke-width="1.0"/>
<line x1="168.17" y1="276.4" x2="168.17" y2="274.9" stroke="#222" stroke-width="1.0"/>
<text x="34.4" y="284.5" font-size="6.5" text-anchor="middle" fill="#111" textLength="8.75" lengthAdjust="spacingAndGlyphs" stroke="#111" stroke-width="0.26">0.2</text>
<text x="54.98" y="284.5" font-size="6.5" text-anchor="middle" fill="#111" textLength="8.75" lengthAdjust="spacingAndGlyphs" stroke="#111" stroke-width="0.26">0.4</text>
<text x="75.56" y="284.5" font-size="6.5" text-anchor="middle" fill="#111" textLength="8.75" lengthAdjust="spacingAndGlyphs" stroke="#111" stroke-width="0.26">0.6</text>
<text x="96.14" y="284.5" font-size="6.5" text-anchor="middle" fill="#111" textLength="8.75" lengthAdjust="spacingAndGlyphs" stroke="#111" stroke-width="0.26">0.8</text>
<text x="116.72" y="284.5" font-size="6.5" text-anchor="middle" fill="#111" textLength="8.75" lengthAdjust="spacingAndGlyphs" stroke="#111" stroke-width="0.26">1.0</text>
<text x="137.3" y="284.5" font-size="6.5" text-anchor="middle" fill="#111" textLength="8.75" lengthAdjust="spacingAndGlyphs" stroke="#111" stroke-width="0.26">1.2</text>
<text x="157.88" y="284.5" font-size="6.5" text-anchor="middle" fill="#111" textLength="8.75" lengthAdjust="spacingAndGlyphs" stroke="#111" stroke-width="0.26">1.4</text>
<text x="178.46" y="284.5" font-size="6.5" text-anchor="middle" fill="#111" textLength="8.75" lengthAdjust="spacingAndGlyphs" stroke="#111" stroke-width="0.26">1.6</text>
<text x="31.9" y="278.4" font-size="6.5" text-anchor="end" fill="#111" textLength="8.75" lengthAdjust="spacingAndGlyphs" stroke="#111" stroke-width="0.26">0.0</text>
<text x="31.9" y="255.18" font-size="6.5" text-anchor="end" fill="#111" textLength="8.75" lengthAdjust="spacingAndGlyphs" stroke="#111" stroke-width="0.26">0.2</text>
<text x="31.9" y="231.96" font-size="6.5" text-anchor="end" fill="#111" textLength="8.75" lengthAdjust="spacingAndGlyphs" stroke="#111" stroke-width="0.26">0.4</text>
<text x="31.9" y="208.74" font-size="6.5" text-anchor="end" fill="#111" textLength="8.75" lengthAdjust="spacingAndGlyphs" stroke="#111" stroke-width="0.26">0.6</text>
<text x="31.9" y="185.52" font-size="6.5" text-anchor="end" fill="#111" textLength="8.75" lengthAdjust="spacingAndGlyphs" stroke="#111" stroke-width="0.26">0.8</text>
<text x="31.9" y="160.8" font-size="6.5" text-anchor="end" fill="#111" textLength="8.75" lengthAdjust="spacingAndGlyphs" stroke="#111" stroke-width="0.26">1.0</text>
<line x1="34.4" y1="253.18" x2="36.7" y2="253.18" stroke="#222" stroke-width="1.0"/>
<line x1="34.4" y1="229.96" x2="36.7" y2="229.96" stroke="#222" stroke-width="1.0"/>
<line x1="34.4" y1="206.74" x2="36.7" y2="206.74" stroke="#222" stroke-width="1.0"/>
<line x1="34.4" y1="183.52" x2="36.7" y2="183.52" stroke="#222" stroke-width="1.0"/>
<line x1="34.4" y1="264.79" x2="35.9" y2="264.79" stroke="#222" stroke-width="1.0"/>
<line x1="34.4" y1="241.57" x2="35.9" y2="241.57" stroke="#222" stroke-width="1.0"/>
<line x1="34.4" y1="218.35" x2="35.9" y2="218.35" stroke="#222" stroke-width="1.0"/>
<line x1="34.4" y1="195.13" x2="35.9" y2="195.13" stroke="#222" stroke-width="1.0"/>
<line x1="34.4" y1="171.91" x2="35.9" y2="171.91" stroke="#222" stroke-width="1.0"/>
<text x="67.1" y="297.7" font-size="7.3" text-anchor="start" fill="#111" textLength="80.2" lengthAdjust="spacingAndGlyphs" stroke="#111" stroke-width="0.29">Potential (V vs. Zn<tspan font-size="70%" dy="-3">2+</tspan><tspan dy="3">/Zn)</tspan></text>
<text x="18.9" y="230.8" font-size="7.9" text-anchor="start" fill="#111" transform="rotate(-90 18.9 230.8)" textLength="25.8" lengthAdjust="spacingAndGlyphs" stroke="#111" stroke-width="0.32">b Value</text>
<text x="12.8" y="161" font-size="16.2" text-anchor="start" fill="#111" stroke="#111" stroke-width="0.32">d</text>
<path d="M229.5 254.1C229.73 251.07 229.94 248.03 230.2 245C230.37 243.03 230.54 241.06 230.8 239.1C231.64 232.92 231.92 226.63 233.5 220.6C234.15 218.13 235.98 216.12 237.4 214C238.62 212.18 240.23 210.65 241.4 208.8C243.3 205.8 244.55 202.4 246.6 199.5C248.94 196.2 251.22 192.66 254.5 190.3C258.42 187.47 263.11 185.81 267.7 184.3C271.97 182.89 276.46 182.29 280.9 181.6C287.9 180.52 294.91 179.11 302 179C305.57 178.94 308.99 180.45 312.5 181.1C315.16 181.59 317.8 182.47 320.5 182.4C324.05 182.3 327.52 181.32 331 180.6C336.03 179.56 341 178.27 346 177.1C345.87 181.4 345.86 185.71 345.6 190C345.46 192.34 345.26 194.7 344.8 197C344.46 198.72 343.73 200.33 343.2 202C342.4 204.5 341.82 207.08 340.8 209.5C339.44 212.73 338.1 216.02 336.1 218.9C334.78 220.8 332.89 222.27 331 223.6C329.72 224.5 328.21 225.1 326.7 225.5C322.79 226.54 318.75 227.04 314.8 227.9C308.49 229.27 302.1 230.38 295.9 232.2C287.91 234.55 280.23 237.85 272.3 240.4C264.46 242.92 256.47 244.97 248.6 247.4C242.2 249.37 235.87 251.53 229.5 253.6Z" fill="#0c488a" stroke="#0c488a" stroke-width="0.3" stroke-linejoin="round"/>
<path d="M229.5 263.3C229.5 260.07 229.3 256.83 229.5 253.6C229.9 246.99 230.5 240.38 231.3 233.8C231.84 229.37 232.33 224.9 233.5 220.6C234.38 217.39 235.92 214.38 237.4 211.4C238.09 210 239.24 208.87 240 207.5C241.45 204.89 242.39 202.01 244 199.5C246.37 195.82 248.57 191.84 251.9 189C254.9 186.43 258.77 184.99 262.5 183.7C268.48 181.64 274.66 180.04 280.9 179C287.87 177.84 294.94 177.21 302 177.1C305.53 177.04 309.01 177.99 312.5 178.5C315.17 178.89 317.81 180 320.5 179.8C324.1 179.53 327.55 178.17 331 177.1C336.05 175.53 341 173.63 346 171.9C346 178.47 346.09 185.03 346 191.6C345.96 194.4 345.98 197.22 345.6 200C345.05 203.98 344.47 207.99 343.2 211.8C342.08 215.15 340.56 218.43 338.5 221.3C337.28 223 335.42 224.18 333.6 225.2C332.2 225.98 330.56 226.23 329 226.6C324.29 227.7 319.38 228.05 314.8 229.6C308.29 231.8 302.24 235.16 295.9 237.8C288.07 241.06 280.24 244.31 272.3 247.3C264.47 250.25 256.43 252.65 248.6 255.6C242.16 258.02 235.87 260.8 229.5 263.4Z" fill="none" stroke="#f04a3a" stroke-width="1.1" stroke-linejoin="round"/>
<rect x="215.6" y="160.4" width="144.7" height="116" fill="none" stroke="#222" stroke-width="1.1"/>
<line x1="222.8" y1="276.4" x2="222.8" y2="274.1" stroke="#222" stroke-width="1.0"/>
<line x1="236.54" y1="276.4" x2="236.54" y2="274.1" stroke="#222" stroke-width="1.0"/>
<line x1="250.28" y1="276.4" x2="250.28" y2="274.1" stroke="#222" stroke-width="1.0"/>
<line x1="264.02" y1="276.4" x2="264.02" y2="274.1" stroke="#222" stroke-width="1.0"/>
<line x1="277.76" y1="276.4" x2="277.76" y2="274.1" stroke="#222" stroke-width="1.0"/>
<line x1="291.5" y1="276.4" x2="291.5" y2="274.1" stroke="#222" stroke-width="1.0"/>
<line x1="305.24" y1="276.4" x2="305.24" y2="274.1" stroke="#222" stroke-width="1.0"/>
<line x1="318.98" y1="276.4" x2="318.98" y2="274.1" stroke="#222" stroke-width="1.0"/>
<line x1="332.72" y1="276.4" x2="332.72" y2="274.1" stroke="#222" stroke-width="1.0"/>
<line x1="346.46" y1="276.4" x2="346.46" y2="274.1" stroke="#222" stroke-width="1.0"/>
<line x1="229.67" y1="276.4" x2="229.67" y2="274.9" stroke="#222" stroke-width="1.0"/>
<line x1="243.41" y1="276.4" x2="243.41" y2="274.9" stroke="#222" stroke-width="1.0"/>
<line x1="257.15" y1="276.4" x2="257.15" y2="274.9" stroke="#222" stroke-width="1.0"/>
<line x1="270.89" y1="276.4" x2="270.89" y2="274.9" stroke="#222" stroke-width="1.0"/>
<line x1="284.63" y1="276.4" x2="284.63" y2="274.9" stroke="#222" stroke-width="1.0"/>
<line x1="298.37" y1="276.4" x2="298.37" y2="274.9" stroke="#222" stroke-width="1.0"/>
<line x1="312.11" y1="276.4" x2="312.11" y2="274.9" stroke="#222" stroke-width="1.0"/>
<line x1="325.85" y1="276.4" x2="325.85" y2="274.9" stroke="#222" stroke-width="1.0"/>
<line x1="339.59" y1="276.4" x2="339.59" y2="274.9" stroke="#222" stroke-width="1.0"/>
<line x1="353.33" y1="276.4" x2="353.33" y2="274.9" stroke="#222" stroke-width="1.0"/>
<text x="222.8" y="284.4" font-size="6.5" text-anchor="middle" fill="#111" textLength="8.75" lengthAdjust="spacingAndGlyphs" stroke="#111" stroke-width="0.26">0.0</text>
<text x="236.54" y="284.4" font-size="6.5" text-anchor="middle" fill="#111" textLength="8.75" lengthAdjust="spacingAndGlyphs" stroke="#111" stroke-width="0.26">0.2</text>
<text x="250.28" y="284.4" font-size="6.5" text-anchor="middle" fill="#111" textLength="8.75" lengthAdjust="spacingAndGlyphs" stroke="#111" stroke-width="0.26">0.4</text>
<text x="264.02" y="284.4" font-size="6.5" text-anchor="middle" fill="#111" textLength="8.75" lengthAdjust="spacingAndGlyphs" stroke="#111" stroke-width="0.26">0.6</text>
<text x="277.76" y="284.4" font-size="6.5" text-anchor="middle" fill="#111" textLength="8.75" lengthAdjust="spacingAndGlyphs" stroke="#111" stroke-width="0.26">0.8</text>
<text x="291.5" y="284.4" font-size="6.5" text-anchor="middle" fill="#111" textLength="8.75" lengthAdjust="spacingAndGlyphs" stroke="#111" stroke-width="0.26">1.0</text>
<text x="305.24" y="284.4" font-size="6.5" text-anchor="middle" fill="#111" textLength="8.75" lengthAdjust="spacingAndGlyphs" stroke="#111" stroke-width="0.26">1.2</text>
<text x="318.98" y="284.4" font-size="6.5" text-anchor="middle" fill="#111" textLength="8.75" lengthAdjust="spacingAndGlyphs" stroke="#111" stroke-width="0.26">1.4</text>
<text x="332.72" y="284.4" font-size="6.5" text-anchor="middle" fill="#111" textLength="8.75" lengthAdjust="spacingAndGlyphs" stroke="#111" stroke-width="0.26">1.6</text>
<text x="346.46" y="284.4" font-size="6.5" text-anchor="middle" fill="#111" textLength="8.75" lengthAdjust="spacingAndGlyphs" stroke="#111" stroke-width="0.26">1.8</text>
<text x="360.2" y="284.4" font-size="6.5" text-anchor="middle" fill="#111" textLength="8.75" lengthAdjust="spacingAndGlyphs" stroke="#111" stroke-width="0.26">2.0</text>
<text x="212.8" y="278.1" font-size="6.5" text-anchor="end" fill="#111" textLength="9.33" lengthAdjust="spacingAndGlyphs" stroke="#111" stroke-width="0.26">-25</text>
<text x="212.8" y="265.14" font-size="6.5" text-anchor="end" fill="#111" textLength="9.33" lengthAdjust="spacingAndGlyphs" stroke="#111" stroke-width="0.26">-20</text>
<text x="212.8" y="252.18" font-size="6.5" text-anchor="end" fill="#111" textLength="9.33" lengthAdjust="spacingAndGlyphs" stroke="#111" stroke-width="0.26">-15</text>
<text x="212.8" y="239.22" font-size="6.5" text-anchor="end" fill="#111" textLength="9.33" lengthAdjust="spacingAndGlyphs" stroke="#111" stroke-width="0.26">-10</text>
<text x="212.8" y="226.26" font-size="6.5" text-anchor="end" fill="#111" textLength="5.83" lengthAdjust="spacingAndGlyphs" stroke="#111" stroke-width="0.26">-5</text>
<text x="212.8" y="213.3" font-size="6.5" text-anchor="end" fill="#111" textLength="3.5" lengthAdjust="spacingAndGlyphs" stroke="#111" stroke-width="0.26">0</text>
<text x="212.8" y="200.34" font-size="6.5" text-anchor="end" fill="#111" textLength="3.5" lengthAdjust="spacingAndGlyphs" stroke="#111" stroke-width="0.26">5</text>
<text x="212.8" y="187.38" font-size="6.5" text-anchor="end" fill="#111" textLength="7" lengthAdjust="spacingAndGlyphs" stroke="#111" stroke-width="0.26">10</text>
<text x="212.8" y="174.42" font-size="6.5" text-anchor="end" fill="#111" textLength="7" lengthAdjust="spacingAndGlyphs" stroke="#111" stroke-width="0.26">15</text>
<text x="212.8" y="161.46" font-size="6.5" text-anchor="end" fill="#111" textLength="7" lengthAdjust="spacingAndGlyphs" stroke="#111" stroke-width="0.26">20</text>
<line x1="215.6" y1="263.14" x2="217.9" y2="263.14" stroke="#222" stroke-width="1.0"/>
<line x1="215.6" y1="250.18" x2="217.9" y2="250.18" stroke="#222" stroke-width="1.0"/>
<line x1="215.6" y1="237.22" x2="217.9" y2="237.22" stroke="#222" stroke-width="1.0"/>
<line x1="215.6" y1="224.26" x2="217.9" y2="224.26" stroke="#222" stroke-width="1.0"/>
<line x1="215.6" y1="211.3" x2="217.9" y2="211.3" stroke="#222" stroke-width="1.0"/>
<line x1="215.6" y1="198.34" x2="217.9" y2="198.34" stroke="#222" stroke-width="1.0"/>
<line x1="215.6" y1="185.38" x2="217.9" y2="185.38" stroke="#222" stroke-width="1.0"/>
<line x1="215.6" y1="172.42" x2="217.9" y2="172.42" stroke="#222" stroke-width="1.0"/>
<line x1="215.6" y1="269.62" x2="217.1" y2="269.62" stroke="#222" stroke-width="1.0"/>
<line x1="215.6" y1="256.66" x2="217.1" y2="256.66" stroke="#222" stroke-width="1.0"/>
<line x1="215.6" y1="243.7" x2="217.1" y2="243.7" stroke="#222" stroke-width="1.0"/>
<line x1="215.6" y1="230.74" x2="217.1" y2="230.74" stroke="#222" stroke-width="1.0"/>
<line x1="215.6" y1="217.78" x2="217.1" y2="217.78" stroke="#222" stroke-width="1.0"/>
<line x1="215.6" y1="204.82" x2="217.1" y2="204.82" stroke="#222" stroke-width="1.0"/>
<line x1="215.6" y1="191.86" x2="217.1" y2="191.86" stroke="#222" stroke-width="1.0"/>
<line x1="215.6" y1="178.9" x2="217.1" y2="178.9" stroke="#222" stroke-width="1.0"/>
<line x1="215.6" y1="165.94" x2="217.1" y2="165.94" stroke="#222" stroke-width="1.0"/>
<text x="245.3" y="298.4" font-size="7.5" text-anchor="start" fill="#111" textLength="85.4" lengthAdjust="spacingAndGlyphs" stroke="#111" stroke-width="0.3">Potential (V vs. Zn<tspan font-size="70%" dy="-3">2+</tspan><tspan dy="3">/Zn)</tspan></text>
<text x="197" y="236.8" font-size="7.9" text-anchor="start" fill="#111" transform="rotate(-90 197 236.8)" textLength="47.2" lengthAdjust="spacingAndGlyphs" stroke="#111" stroke-width="0.32">Current (mA)</text>
<text x="195.9" y="159.3" font-size="16" text-anchor="start" fill="#111" stroke="#111" stroke-width="0.32">e</text>
<text x="221" y="172.5" font-size="7.2" text-anchor="start" fill="#111" textLength="27.4" lengthAdjust="spacingAndGlyphs" stroke="#111" stroke-width="0.29">50 mv s<tspan font-size="70%" dy="-2.8">-1</tspan></text>
<text x="271" y="215.7" font-size="7.4" text-anchor="start" fill="#fff" textLength="16.6" lengthAdjust="spacingAndGlyphs" stroke="#fff" stroke-width="0.3">87 %</text>
<rect x="402.65" y="179" width="14.4" height="43.56" fill="#d81c06"/>
<rect x="402.65" y="222.56" width="14.4" height="53.24" fill="#0c488a"/>
<text x="409.85" y="251.38" font-size="6.0" text-anchor="middle" fill="#fff" textLength="11.6" lengthAdjust="spacingAndGlyphs" stroke="#fff" stroke-width="0.24">55%</text>
<text x="409.85" y="286.9" font-size="6.5" text-anchor="middle" fill="#111" textLength="3.5" lengthAdjust="spacingAndGlyphs" stroke="#111" stroke-width="0.26">1</text>
<rect x="426.82" y="179" width="14.4" height="40.66" fill="#d81c06"/>
<rect x="426.82" y="219.66" width="14.4" height="56.14" fill="#0c488a"/>
<text x="434.02" y="249.93" font-size="6.0" text-anchor="middle" fill="#fff" textLength="11.6" lengthAdjust="spacingAndGlyphs" stroke="#fff" stroke-width="0.24">58%</text>
<text x="434.02" y="286.9" font-size="6.5" text-anchor="middle" fill="#111" textLength="3.5" lengthAdjust="spacingAndGlyphs" stroke="#111" stroke-width="0.26">2</text>
<rect x="450.99" y="179" width="14.4" height="35.82" fill="#d81c06"/>
<rect x="450.99" y="214.82" width="14.4" height="60.98" fill="#0c488a"/>
<text x="458.19" y="247.51" font-size="6.0" text-anchor="middle" fill="#fff" textLength="11.6" lengthAdjust="spacingAndGlyphs" stroke="#fff" stroke-width="0.24">63%</text>
<text x="458.19" y="286.9" font-size="6.5" text-anchor="middle" fill="#111" textLength="3.5" lengthAdjust="spacingAndGlyphs" stroke="#111" stroke-width="0.26">5</text>
<rect x="475.16" y="179" width="14.4" height="30.01" fill="#d81c06"/>
<rect x="475.16" y="209.01" width="14.4" height="66.79" fill="#0c488a"/>
<text x="482.36" y="244.6" font-size="6.0" text-anchor="middle" fill="#fff" textLength="11.6" lengthAdjust="spacingAndGlyphs" stroke="#fff" stroke-width="0.24">69%</text>
<text x="482.36" y="286.9" font-size="6.5" text-anchor="middle" fill="#111" textLength="7" lengthAdjust="spacingAndGlyphs" stroke="#111" stroke-width="0.26">10</text>
<rect x="499.33" y="179" width="14.4" height="24.2" fill="#d81c06"/>
<rect x="499.33" y="203.2" width="14.4" height="72.6" fill="#0c488a"/>
<text x="506.53" y="241.7" font-size="6.0" text-anchor="middle" fill="#fff" textLength="11.6" lengthAdjust="spacingAndGlyphs" stroke="#fff" stroke-width="0.24">75%</text>
<text x="506.53" y="286.9" font-size="6.5" text-anchor="middle" fill="#111" textLength="7" lengthAdjust="spacingAndGlyphs" stroke="#111" stroke-width="0.26">20</text>
<rect x="523.5" y="179" width="14.4" height="12.58" fill="#d81c06"/>
<rect x="523.5" y="191.58" width="14.4" height="84.22" fill="#0c488a"/>
<text x="530.7" y="235.89" font-size="6.0" text-anchor="middle" fill="#fff" textLength="11.6" lengthAdjust="spacingAndGlyphs" stroke="#fff" stroke-width="0.24">87%</text>
<text x="530.7" y="286.9" font-size="6.5" text-anchor="middle" fill="#111" textLength="7" lengthAdjust="spacingAndGlyphs" stroke="#111" stroke-width="0.26">50</text>
<rect x="397.7" y="159.6" width="144.5" height="116.2" fill="none" stroke="#222" stroke-width="1.1"/>
<text x="394.8" y="277.8" font-size="6.5" text-anchor="end" fill="#111" textLength="3.5" lengthAdjust="spacingAndGlyphs" stroke="#111" stroke-width="0.26">0</text>
<text x="394.8" y="258.44" font-size="6.5" text-anchor="end" fill="#111" textLength="7" lengthAdjust="spacingAndGlyphs" stroke="#111" stroke-width="0.26">20</text>
<text x="394.8" y="239.08" font-size="6.5" text-anchor="end" fill="#111" textLength="7" lengthAdjust="spacingAndGlyphs" stroke="#111" stroke-width="0.26">40</text>
<text x="394.8" y="219.72" font-size="6.5" text-anchor="end" fill="#111" textLength="7" lengthAdjust="spacingAndGlyphs" stroke="#111" stroke-width="0.26">60</text>
<text x="394.8" y="200.36" font-size="6.5" text-anchor="end" fill="#111" textLength="7" lengthAdjust="spacingAndGlyphs" stroke="#111" stroke-width="0.26">80</text>
<text x="394.8" y="181" font-size="6.5" text-anchor="end" fill="#111" textLength="10.5" lengthAdjust="spacingAndGlyphs" stroke="#111" stroke-width="0.26">100</text>
<text x="394.8" y="161.64" font-size="6.5" text-anchor="end" fill="#111" textLength="10.5" lengthAdjust="spacingAndGlyphs" stroke="#111" stroke-width="0.26">120</text>
<line x1="397.7" y1="256.44" x2="400" y2="256.44" stroke="#222" stroke-width="1.0"/>
<line x1="397.7" y1="237.08" x2="400" y2="237.08" stroke="#222" stroke-width="1.0"/>
<line x1="397.7" y1="217.72" x2="400" y2="217.72" stroke="#222" stroke-width="1.0"/>
<line x1="397.7" y1="198.36" x2="400" y2="198.36" stroke="#222" stroke-width="1.0"/>
<line x1="397.7" y1="179" x2="400" y2="179" stroke="#222" stroke-width="1.0"/>
<rect x="399.6" y="163.6" width="12" height="6.4" fill="#d81c06"/>
<text x="413.8" y="168.9" font-size="5.4" text-anchor="start" fill="#111" textLength="52.4" lengthAdjust="spacingAndGlyphs" stroke="#111" stroke-width="0.22">Diffusion&#160;&#160;contribution</text>
<rect x="472" y="163.6" width="11.6" height="6.4" fill="#0c488a"/>
<text x="486.2" y="168.9" font-size="5.4" text-anchor="start" fill="#111" textLength="54.8" lengthAdjust="spacingAndGlyphs" stroke="#111" stroke-width="0.22">Capacitive contribution</text>
<text x="437.5" y="297.4" font-size="7.8" text-anchor="start" fill="#111" textLength="65" lengthAdjust="spacingAndGlyphs" stroke="#111" stroke-width="0.31">Scan Rate (mV s<tspan font-size="70%" dy="-3">-1</tspan><tspan dy="3">)</tspan></text>
<text x="379.5" y="247.1" font-size="7.9" text-anchor="start" fill="#111" transform="rotate(-90 379.5 247.1)" textLength="60.8" lengthAdjust="spacingAndGlyphs" stroke="#111" stroke-width="0.32">Contribution (%)</text>
<text x="376.3" y="164.7" font-size="16" text-anchor="start" fill="#111" stroke="#111" stroke-width="0.32">f</text>
<path d="M86.6 338.28 L87.2 362.2 L87.84 360.72 L88.52 361.09 L89.31 364.2 L90.12 374.19 L90.77 372.16 L91.44 372.03 L92.23 373.15 L93.05 381 L93.69 377.75 L94.37 377.44 L95.16 378.67 L95.97 386.61 L96.62 383.44 L97.29 382.95 L98.08 383.82 L98.9 391 L99.54 387.8 L100.22 387.25 L101.01 387.88 L101.82 396.5 L102.47 391.9 L103.14 390.77 L103.93 391.32 L104.75 400.33 L105.39 395.77 L106.07 394.78 L106.86 395.54 L107.67 404.66 L108.32 400.08 L108.99 399.1 L109.78 399.87 L110.6 408.9 L111.24 404.08 L111.92 402.91 L112.71 403.48 L113.52 412.02 L114.17 407.4 L114.84 406.23 L115.63 406.72 L116.45 415.24 L117.09 410.62 L117.77 409.46 L118.56 409.95 L119.37 417.89 L120.02 413.26 L120.69 411.93 L121.48 412.16 L122.3 420.6 L122.94 415.68 L123.62 414.29 L124.41 414.56 L125.22 422.61 L125.87 417.74 L126.54 416.27 L127.33 416.36 L128.15 424.21 L128.79 419.31 L129.47 417.75 L130.26 417.72 L131.07 425.29 L131.72 420.53 L132.39 419.03 L133.18 419.02 L134 426.7 L134.64 421.87 L135.32 420.35 L136.11 420.33 L136.93 427.8 L137.57 422.88 L138.24 421.18 L139.03 420.94 L139.85 428.68 L140.49 423.44 L141.17 421.63 L141.96 421.36 L142.78 429.51 L143.42 423.98 L144.09 422.07 L144.88 421.78 L145.7 430.27 L146.34 424.42 L147.02 422.36 L147.81 422 L148.63 430.67 L149.27 424.69 L149.94 422.58 L150.73 422.21 L151.55 431.08 L152.19 424.95 L152.87 422.78 L153.66 422.37 L154.48 431.48 L155.12 425.15 L155.79 422.91 L156.58 422.49 L157.4 431.76 L158.04 425.32 L158.72 423.04 L159.51 422.61 L160.33 432.04 L160.97 425.49 L161.64 423.17 L162.43 422.73 L163.25 432.31 L163.89 425.65 L164.57 423.29 L165.36 422.85 L166.18 432.56 L166.82 425.81 L167.49 423.42 L168.28 422.97 L169.1 432.8 L169.25 413.9 L169.99 418.04 L170.58 418.72 L171.37 417.46 L172.2 408.81 L172.94 413.05 L173.53 414.04 L174.32 413.4 L175.15 404.92 L175.89 409.26 L176.48 410.34 L177.27 409.83 L178.1 401.99 L178.84 406.11 L179.43 407.18 L180.22 406.78 L181.05 399.05 L181.79 403.14 L182.38 404.21 L183.17 403.83 L184 396.01 L184.74 400.21 L185.33 401.33 L186.12 400.98 L186.95 393.05 L187.69 397.28 L188.28 398.4 L189.07 398.02 L189.9 390.1 L190.64 394.29 L191.23 395.37 L192.02 394.98 L192.85 387.24 L193.59 391.34 L194.18 392.41 L194.97 391.99 L195.8 384.21 L196.54 388.07 L197.13 388.98 L197.92 388.44 L198.75 381.25 L199.49 384.75 L200.08 385.55 L200.87 384.91 L201.7 377.72 L202.44 380.54 L203.03 380.94 L203.82 379.96 L204.65 372.85 L205.39 375.63 L205.98 376.08 L206.77 375.65 L207.6 369.16 L208.34 372.43 L208.93 373.23 L209.72 372.7 L210.55 365.67 L211.29 369.12 L211.88 369.94 L212.67 369.43 L213.5 362.17 L214.24 365.82 L214.83 366.7 L215.62 366.33 L216.45 358.84 L217.19 362.86 L217.78 364.01 L218.57 364.03 L219.4 355.78 L220.14 360.92 L220.73 362.52 L221.52 362.79 L222.35 352.9 L223.09 359.5 L223.68 361.67 L224.47 361.88 L225.3 350.9 L226.04 357.86 L226.63 360.06 L227.42 360.26 L228.25 349.32 L228.99 356.25 L229.58 358.44 L230.37 358.76 L231.2 348.14 L231.94 355.1 L232.53 357.37 L233.32 357.74 L234.15 347.31 L234.89 354.21 L235.48 356.47 L236.27 356.89 L237.1 346.61 L237.84 353.49 L238.43 355.78 L239.22 356.3 L240.05 345.92 L240.79 353.04 L241.38 355.43 L242.17 355.9 L243 344.99 L243.74 352.38 L244.33 354.85 L245.12 355.39 L245.95 344.1 L246.69 351.82 L247.28 354.41 L248.07 354.92 L248.9 343.39 L249.64 351.19 L250.23 353.78 L251.02 354.24 L251.85 342.58 L252.59 350.36 L253.18 352.98 L253.97 353.56 L254.8 341.71 L255.54 349.84 L256.13 352.57 L256.92 353.1 L257.75 340.83 L258.49 349.14 L259.08 351.92 L259.87 352.48 L260.7 340.23 L261.44 348.53 L262.03 351.33 L262.82 351.94 L263.65 339.56 L264.39 348.04 L264.98 350.92 L265.77 351.58 L266.6 339.03 L267.34 347.69 L267.93 350.63 L268.72 351.29 L269.55 338.57 L270.29 347.32 L270.88 350.31 L271.67 351.02 L272.5 338.25 L273.24 347.1 L273.83 350.09 L274.62 350.78 L275.45 338.12 L276.19 346.85 L276.78 349.85 L277.57 350.6 L278.4 338 L278.6 349.6" fill="none" stroke="#f40000" stroke-width="1.1" stroke-linejoin="round"/>
<rect x="74.4" y="327" width="212.1" height="116.4" fill="none" stroke="#222" stroke-width="1.1"/>
<line x1="86.6" y1="443.4" x2="86.6" y2="441.1" stroke="#222" stroke-width="1.0"/>
<line x1="111.6" y1="443.4" x2="111.6" y2="441.1" stroke="#222" stroke-width="1.0"/>
<line x1="136.6" y1="443.4" x2="136.6" y2="441.1" stroke="#222" stroke-width="1.0"/>
<line x1="161.6" y1="443.4" x2="161.6" y2="441.1" stroke="#222" stroke-width="1.0"/>
<line x1="186.6" y1="443.4" x2="186.6" y2="441.1" stroke="#222" stroke-width="1.0"/>
<line x1="211.6" y1="443.4" x2="211.6" y2="441.1" stroke="#222" stroke-width="1.0"/>
<line x1="236.6" y1="443.4" x2="236.6" y2="441.1" stroke="#222" stroke-width="1.0"/>
<line x1="261.6" y1="443.4" x2="261.6" y2="441.1" stroke="#222" stroke-width="1.0"/>
<line x1="99.1" y1="443.4" x2="99.1" y2="441.9" stroke="#222" stroke-width="1.0"/>
<line x1="124.1" y1="443.4" x2="124.1" y2="441.9" stroke="#222" stroke-width="1.0"/>
<line x1="149.1" y1="443.4" x2="149.1" y2="441.9" stroke="#222" stroke-width="1.0"/>
<line x1="174.1" y1="443.4" x2="174.1" y2="441.9" stroke="#222" stroke-width="1.0"/>
<line x1="199.1" y1="443.4" x2="199.1" y2="441.9" stroke="#222" stroke-width="1.0"/>
<line x1="224.1" y1="443.4" x2="224.1" y2="441.9" stroke="#222" stroke-width="1.0"/>
<line x1="249.1" y1="443.4" x2="249.1" y2="441.9" stroke="#222" stroke-width="1.0"/>
<line x1="274.1" y1="443.4" x2="274.1" y2="441.9" stroke="#222" stroke-width="1.0"/>
<text x="86.6" y="451.8" font-size="6.5" text-anchor="middle" fill="#111" textLength="3.5" lengthAdjust="spacingAndGlyphs" stroke="#111" stroke-width="0.26">0</text>
<text x="111.6" y="451.8" font-size="6.5" text-anchor="middle" fill="#111" textLength="3.5" lengthAdjust="spacingAndGlyphs" stroke="#111" stroke-width="0.26">5</text>
<text x="136.6" y="451.8" font-size="6.5" text-anchor="middle" fill="#111" textLength="7" lengthAdjust="spacingAndGlyphs" stroke="#111" stroke-width="0.26">10</text>
<text x="161.6" y="451.8" font-size="6.5" text-anchor="middle" fill="#111" textLength="7" lengthAdjust="spacingAndGlyphs" stroke="#111" stroke-width="0.26">15</text>
<text x="186.6" y="451.8" font-size="6.5" text-anchor="middle" fill="#111" textLength="7" lengthAdjust="spacingAndGlyphs" stroke="#111" stroke-width="0.26">20</text>
<text x="211.6" y="451.8" font-size="6.5" text-anchor="middle" fill="#111" textLength="7" lengthAdjust="spacingAndGlyphs" stroke="#111" stroke-width="0.26">25</text>
<text x="236.6" y="451.8" font-size="6.5" text-anchor="middle" fill="#111" textLength="7" lengthAdjust="spacingAndGlyphs" stroke="#111" stroke-width="0.26">30</text>
<text x="261.6" y="451.8" font-size="6.5" text-anchor="middle" fill="#111" textLength="7" lengthAdjust="spacingAndGlyphs" stroke="#111" stroke-width="0.26">35</text>
<text x="286.6" y="451.8" font-size="6.5" text-anchor="middle" fill="#111" textLength="7" lengthAdjust="spacingAndGlyphs" stroke="#111" stroke-width="0.26">40</text>
<text x="71.6" y="440" font-size="6.5" text-anchor="end" fill="#111" textLength="8.75" lengthAdjust="spacingAndGlyphs" stroke="#111" stroke-width="0.26">0.0</text>
<text x="71.6" y="428.92" font-size="6.5" text-anchor="end" fill="#111" textLength="8.75" lengthAdjust="spacingAndGlyphs" stroke="#111" stroke-width="0.26">0.2</text>
<text x="71.6" y="417.84" font-size="6.5" text-anchor="end" fill="#111" textLength="8.75" lengthAdjust="spacingAndGlyphs" stroke="#111" stroke-width="0.26">0.4</text>
<text x="71.6" y="406.76" font-size="6.5" text-anchor="end" fill="#111" textLength="8.75" lengthAdjust="spacingAndGlyphs" stroke="#111" stroke-width="0.26">0.6</text>
<text x="71.6" y="395.68" font-size="6.5" text-anchor="end" fill="#111" textLength="8.75" lengthAdjust="spacingAndGlyphs" stroke="#111" stroke-width="0.26">0.8</text>
<text x="71.6" y="384.6" font-size="6.5" text-anchor="end" fill="#111" textLength="8.75" lengthAdjust="spacingAndGlyphs" stroke="#111" stroke-width="0.26">1.0</text>
<text x="71.6" y="373.52" font-size="6.5" text-anchor="end" fill="#111" textLength="8.75" lengthAdjust="spacingAndGlyphs" stroke="#111" stroke-width="0.26">1.2</text>
<text x="71.6" y="362.44" font-size="6.5" text-anchor="end" fill="#111" textLength="8.75" lengthAdjust="spacingAndGlyphs" stroke="#111" stroke-width="0.26">1.4</text>
<text x="71.6" y="351.36" font-size="6.5" text-anchor="end" fill="#111" textLength="8.75" lengthAdjust="spacingAndGlyphs" stroke="#111" stroke-width="0.26">1.6</text>
<text x="71.6" y="340.28" font-size="6.5" text-anchor="end" fill="#111" textLength="8.75" lengthAdjust="spacingAndGlyphs" stroke="#111" stroke-width="0.26">1.8</text>
<text x="71.6" y="329.2" font-size="6.5" text-anchor="end" fill="#111" textLength="8.75" lengthAdjust="spacingAndGlyphs" stroke="#111" stroke-width="0.26">2.0</text>
<line x1="74.4" y1="438" x2="76.7" y2="438" stroke="#222" stroke-width="1.0"/>
<line x1="74.4" y1="426.92" x2="76.7" y2="426.92" stroke="#222" stroke-width="1.0"/>
<line x1="74.4" y1="415.84" x2="76.7" y2="415.84" stroke="#222" stroke-width="1.0"/>
<line x1="74.4" y1="404.76" x2="76.7" y2="404.76" stroke="#222" stroke-width="1.0"/>
<line x1="74.4" y1="393.68" x2="76.7" y2="393.68" stroke="#222" stroke-width="1.0"/>
<line x1="74.4" y1="382.6" x2="76.7" y2="382.6" stroke="#222" stroke-width="1.0"/>
<line x1="74.4" y1="371.52" x2="76.7" y2="371.52" stroke="#222" stroke-width="1.0"/>
<line x1="74.4" y1="360.44" x2="76.7" y2="360.44" stroke="#222" stroke-width="1.0"/>
<line x1="74.4" y1="349.36" x2="76.7" y2="349.36" stroke="#222" stroke-width="1.0"/>
<line x1="74.4" y1="338.28" x2="76.7" y2="338.28" stroke="#222" stroke-width="1.0"/>
<line x1="74.4" y1="432.46" x2="75.9" y2="432.46" stroke="#222" stroke-width="1.0"/>
<line x1="74.4" y1="421.38" x2="75.9" y2="421.38" stroke="#222" stroke-width="1.0"/>
<line x1="74.4" y1="410.3" x2="75.9" y2="410.3" stroke="#222" stroke-width="1.0"/>
<line x1="74.4" y1="399.22" x2="75.9" y2="399.22" stroke="#222" stroke-width="1.0"/>
<line x1="74.4" y1="388.14" x2="75.9" y2="388.14" stroke="#222" stroke-width="1.0"/>
<line x1="74.4" y1="377.06" x2="75.9" y2="377.06" stroke="#222" stroke-width="1.0"/>
<line x1="74.4" y1="365.98" x2="75.9" y2="365.98" stroke="#222" stroke-width="1.0"/>
<line x1="74.4" y1="354.9" x2="75.9" y2="354.9" stroke="#222" stroke-width="1.0"/>
<line x1="74.4" y1="343.82" x2="75.9" y2="343.82" stroke="#222" stroke-width="1.0"/>
<line x1="74.4" y1="332.74" x2="75.9" y2="332.74" stroke="#222" stroke-width="1.0"/>
<text x="165.7" y="464.2" font-size="8.2" text-anchor="start" fill="#111" textLength="29.6" lengthAdjust="spacingAndGlyphs" stroke="#111" stroke-width="0.32">Time (h)</text>
<text x="55.9" y="401.8" font-size="7.9" text-anchor="start" fill="#111" transform="rotate(-90 55.9 401.8)" textLength="40.4" lengthAdjust="spacingAndGlyphs" stroke="#111" stroke-width="0.32">Voltage (V)</text>
<text x="45.4" y="338.2" font-size="15" text-anchor="start" fill="#111" stroke="#111" stroke-width="0.32">g</text>
<path d="M365.6 402.6 L366.6 348 L369 353 L371 371 L373 366 L377 357 L380 353 L383 351 L387 348 L391 345 L395 343 L400 341.4 L406 340.4 L412 339 L419 339 L425.6 338 L433 336" fill="none" stroke="#f22a2a" stroke-width="0.7" stroke-linejoin="round"/>
<circle cx="365.6" cy="402.6" r="1.6" fill="#f22a2a"/>
<circle cx="366.6" cy="348" r="1.6" fill="#f22a2a"/>
<circle cx="369" cy="353" r="1.6" fill="#f22a2a"/>
<circle cx="371" cy="371" r="1.6" fill="#f22a2a"/>
<circle cx="373" cy="366" r="1.6" fill="#f22a2a"/>
<circle cx="377" cy="357" r="1.6" fill="#f22a2a"/>
<circle cx="380" cy="353" r="1.6" fill="#f22a2a"/>
<circle cx="383" cy="351" r="1.6" fill="#f22a2a"/>
<circle cx="387" cy="348" r="1.6" fill="#f22a2a"/>
<circle cx="391" cy="345" r="1.6" fill="#f22a2a"/>
<circle cx="395" cy="343" r="1.6" fill="#f22a2a"/>
<circle cx="400" cy="341.4" r="1.6" fill="#f22a2a"/>
<circle cx="406" cy="340.4" r="1.6" fill="#f22a2a"/>
<circle cx="412" cy="339" r="1.6" fill="#f22a2a"/>
<circle cx="419" cy="339" r="1.6" fill="#f22a2a"/>
<circle cx="425.6" cy="338" r="1.6" fill="#f22a2a"/>
<circle cx="433" cy="336" r="1.6" fill="#f22a2a"/>
<path d="M396.4 357.4 L401 353 L405 357.6 L409 350.6 L412.6 352.4 L416.4 349 L421 350.4 L425.6 348 L430 347.6 L434 350.6 L438.6 348.4 L443.6 352.4 L448 348.6 L453 351.6 L458 353.4 L462.6 356.6 L467.2 361 L470.6 366.6 L473.4 373 L475.6 379.6 L477 387.6 L478 391 L479.6 396 L481 397.6 L482 396 L484.4 390 L485 393 L486.6 396 L487.6 396.4 L488.6 401 L489.6 402 L490 409.6" fill="none" stroke="#3a70b5" stroke-width="0.7" stroke-linejoin="round"/>
<circle cx="396.4" cy="357.4" r="1.5" fill="#3a70b5"/>
<circle cx="401" cy="353" r="1.5" fill="#3a70b5"/>
<circle cx="405" cy="357.6" r="1.5" fill="#3a70b5"/>
<circle cx="409" cy="350.6" r="1.5" fill="#3a70b5"/>
<circle cx="412.6" cy="352.4" r="1.5" fill="#3a70b5"/>
<circle cx="416.4" cy="349" r="1.5" fill="#3a70b5"/>
<circle cx="421" cy="350.4" r="1.5" fill="#3a70b5"/>
<circle cx="425.6" cy="348" r="1.5" fill="#3a70b5"/>
<circle cx="430" cy="347.6" r="1.5" fill="#3a70b5"/>
<circle cx="434" cy="350.6" r="1.5" fill="#3a70b5"/>
<circle cx="438.6" cy="348.4" r="1.5" fill="#3a70b5"/>
<circle cx="443.6" cy="352.4" r="1.5" fill="#3a70b5"/>
<circle cx="448" cy="348.6" r="1.5" fill="#3a70b5"/>
<circle cx="453" cy="351.6" r="1.5" fill="#3a70b5"/>
<circle cx="458" cy="353.4" r="1.5" fill="#3a70b5"/>
<circle cx="462.6" cy="356.6" r="1.5" fill="#3a70b5"/>
<circle cx="467.2" cy="361" r="1.5" fill="#3a70b5"/>
<circle cx="470.6" cy="366.6" r="1.5" fill="#3a70b5"/>
<circle cx="473.4" cy="373" r="1.5" fill="#3a70b5"/>
<circle cx="475.6" cy="379.6" r="1.5" fill="#3a70b5"/>
<circle cx="477" cy="387.6" r="1.5" fill="#3a70b5"/>
<circle cx="478" cy="391" r="1.5" fill="#3a70b5"/>
<circle cx="479.6" cy="396" r="1.5" fill="#3a70b5"/>
<circle cx="481" cy="397.6" r="1.5" fill="#3a70b5"/>
<circle cx="482" cy="396" r="1.5" fill="#3a70b5"/>
<circle cx="484.4" cy="390" r="1.5" fill="#3a70b5"/>
<circle cx="485" cy="393" r="1.5" fill="#3a70b5"/>
<circle cx="486.6" cy="396" r="1.5" fill="#3a70b5"/>
<circle cx="487.6" cy="396.4" r="1.5" fill="#3a70b5"/>
<circle cx="488.6" cy="401" r="1.5" fill="#3a70b5"/>
<circle cx="489.6" cy="402" r="1.5" fill="#3a70b5"/>
<circle cx="490" cy="409.6" r="1.5" fill="#3a70b5"/>
<rect x="354.8" y="326.6" width="144.2" height="116.2" fill="none" stroke="#222" stroke-width="1.1"/>
<line x1="371" y1="442.8" x2="371" y2="440.5" stroke="#222" stroke-width="1.0"/>
<line x1="386" y1="442.8" x2="386" y2="440.5" stroke="#222" stroke-width="1.0"/>
<line x1="401" y1="442.8" x2="401" y2="440.5" stroke="#222" stroke-width="1.0"/>
<line x1="416" y1="442.8" x2="416" y2="440.5" stroke="#222" stroke-width="1.0"/>
<line x1="431" y1="442.8" x2="431" y2="440.5" stroke="#222" stroke-width="1.0"/>
<line x1="446" y1="442.8" x2="446" y2="440.5" stroke="#222" stroke-width="1.0"/>
<line x1="461" y1="442.8" x2="461" y2="440.5" stroke="#222" stroke-width="1.0"/>
<line x1="476" y1="442.8" x2="476" y2="440.5" stroke="#222" stroke-width="1.0"/>
<line x1="491" y1="442.8" x2="491" y2="440.5" stroke="#222" stroke-width="1.0"/>
<line x1="363.5" y1="442.8" x2="363.5" y2="441.3" stroke="#222" stroke-width="1.0"/>
<line x1="378.5" y1="442.8" x2="378.5" y2="441.3" stroke="#222" stroke-width="1.0"/>
<line x1="393.5" y1="442.8" x2="393.5" y2="441.3" stroke="#222" stroke-width="1.0"/>
<line x1="408.5" y1="442.8" x2="408.5" y2="441.3" stroke="#222" stroke-width="1.0"/>
<line x1="423.5" y1="442.8" x2="423.5" y2="441.3" stroke="#222" stroke-width="1.0"/>
<line x1="438.5" y1="442.8" x2="438.5" y2="441.3" stroke="#222" stroke-width="1.0"/>
<line x1="453.5" y1="442.8" x2="453.5" y2="441.3" stroke="#222" stroke-width="1.0"/>
<line x1="468.5" y1="442.8" x2="468.5" y2="441.3" stroke="#222" stroke-width="1.0"/>
<line x1="483.5" y1="442.8" x2="483.5" y2="441.3" stroke="#222" stroke-width="1.0"/>
<text x="356" y="451" font-size="6.5" text-anchor="middle" fill="#111" textLength="8.75" lengthAdjust="spacingAndGlyphs" stroke="#111" stroke-width="0.26">0.0</text>
<text x="371" y="451" font-size="6.5" text-anchor="middle" fill="#111" textLength="8.75" lengthAdjust="spacingAndGlyphs" stroke="#111" stroke-width="0.26">0.2</text>
<text x="386" y="451" font-size="6.5" text-anchor="middle" fill="#111" textLength="8.75" lengthAdjust="spacingAndGlyphs" stroke="#111" stroke-width="0.26">0.4</text>
<text x="401" y="451" font-size="6.5" text-anchor="middle" fill="#111" textLength="8.75" lengthAdjust="spacingAndGlyphs" stroke="#111" stroke-width="0.26">0.6</text>
<text x="416" y="451" font-size="6.5" text-anchor="middle" fill="#111" textLength="8.75" lengthAdjust="spacingAndGlyphs" stroke="#111" stroke-width="0.26">0.8</text>
<text x="431" y="451" font-size="6.5" text-anchor="middle" fill="#111" textLength="8.75" lengthAdjust="spacingAndGlyphs" stroke="#111" stroke-width="0.26">1.0</text>
<text x="446" y="451" font-size="6.5" text-anchor="middle" fill="#111" textLength="8.75" lengthAdjust="spacingAndGlyphs" stroke="#111" stroke-width="0.26">1.2</text>
<text x="461" y="451" font-size="6.5" text-anchor="middle" fill="#111" textLength="8.75" lengthAdjust="spacingAndGlyphs" stroke="#111" stroke-width="0.26">1.4</text>
<text x="476" y="451" font-size="6.5" text-anchor="middle" fill="#111" textLength="8.75" lengthAdjust="spacingAndGlyphs" stroke="#111" stroke-width="0.26">1.6</text>
<text x="491" y="451" font-size="6.5" text-anchor="middle" fill="#111" textLength="8.75" lengthAdjust="spacingAndGlyphs" stroke="#111" stroke-width="0.26">1.8</text>
<text x="352.6" y="441.5" font-size="7.0" text-anchor="end" fill="#111" stroke="#111" stroke-width="0.28">10<tspan font-size="4.6" dy="-2.6">-13</tspan></text>
<text x="352.6" y="414.55" font-size="7.0" text-anchor="end" fill="#111" stroke="#111" stroke-width="0.28">10<tspan font-size="4.6" dy="-2.6">-12</tspan></text>
<text x="352.6" y="387.6" font-size="7.0" text-anchor="end" fill="#111" stroke="#111" stroke-width="0.28">10<tspan font-size="4.6" dy="-2.6">-11</tspan></text>
<text x="352.6" y="360.65" font-size="7.0" text-anchor="end" fill="#111" stroke="#111" stroke-width="0.28">10<tspan font-size="4.6" dy="-2.6">-10</tspan></text>
<text x="352.6" y="333.7" font-size="7.0" text-anchor="end" fill="#111" stroke="#111" stroke-width="0.28">10<tspan font-size="4.6" dy="-2.6">-9</tspan></text>
<line x1="354.8" y1="415.85" x2="357.1" y2="415.85" stroke="#222" stroke-width="1.0"/>
<line x1="354.8" y1="388.9" x2="357.1" y2="388.9" stroke="#222" stroke-width="1.0"/>
<line x1="354.8" y1="361.95" x2="357.1" y2="361.95" stroke="#222" stroke-width="1.0"/>
<line x1="354.8" y1="335" x2="357.1" y2="335" stroke="#222" stroke-width="1.0"/>
<line x1="354.8" y1="429.32" x2="356.3" y2="429.32" stroke="#222" stroke-width="1.0"/>
<line x1="354.8" y1="402.38" x2="356.3" y2="402.38" stroke="#222" stroke-width="1.0"/>
<line x1="354.8" y1="375.43" x2="356.3" y2="375.43" stroke="#222" stroke-width="1.0"/>
<line x1="354.8" y1="348.48" x2="356.3" y2="348.48" stroke="#222" stroke-width="1.0"/>
<text x="408.7" y="463.2" font-size="8.2" text-anchor="start" fill="#111" textLength="36.3" lengthAdjust="spacingAndGlyphs" stroke="#111" stroke-width="0.32">Volage (V)</text>
<text x="335.2" y="430.8" font-size="7.9" text-anchor="start" fill="#111" transform="rotate(-90 335.2 430.8)" textLength="94" lengthAdjust="spacingAndGlyphs" stroke="#111" stroke-width="0.32">Diffusion coefficent (cm<tspan font-size="70%" dy="-3">2</tspan><tspan dy="3"> s</tspan><tspan font-size="70%" dy="-3">-1</tspan><tspan dy="3">)</tspan></text>
<text x="303.4" y="338.7" font-size="16" text-anchor="start" fill="#111" stroke="#111" stroke-width="0.32">h</text>
<line x1="455" y1="332.4" x2="468" y2="332.4" stroke="#f22a2a" stroke-width="0.8"/>
<circle cx="461.6" cy="332.4" r="1.3" fill="#f22a2a"/>
<text x="470.3" y="334.9" font-size="6.9" text-anchor="start" fill="#111" textLength="27.8" lengthAdjust="spacingAndGlyphs" stroke="#111" stroke-width="0.28">Discharge</text>
<line x1="455" y1="341.4" x2="468" y2="341.4" stroke="#3a70b5" stroke-width="0.8"/>
<circle cx="461.6" cy="341.4" r="1.3" fill="#3a70b5"/>
<text x="470.3" y="343.9" font-size="6.9" text-anchor="start" fill="#111" textLength="20.4" lengthAdjust="spacingAndGlyphs" stroke="#111" stroke-width="0.28">Charge</text></svg></body></html>
